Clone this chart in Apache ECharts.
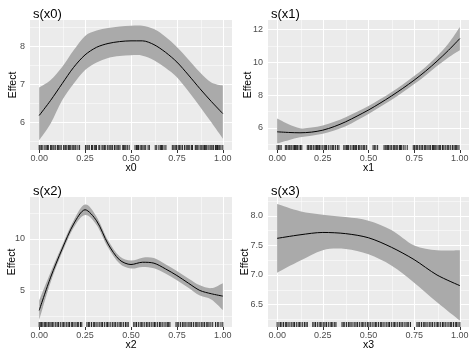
<!DOCTYPE html>
<html><head><meta charset="utf-8">
<script src="https://cdn.jsdelivr.net/npm/echarts@6/dist/echarts.min.js"></script>
<style>html,body{margin:0;padding:0;background:#fff}#c{width:474px;height:355px}</style>
</head><body><div id="c"></div>
<script>
// ---------- data ----------
const titles = ['s(x0)', 's(x1)', 's(x2)', 's(x3)'];
const xNames = ['x0', 'x1', 'x2', 'x3'];
const yName = 'Effect';
const xTicks = [0, 0.25, 0.5, 0.75, 1];
const xMinor = [0.125, 0.375, 0.625, 0.875];

// s(x0)
const xs0  = [0, 0.0625, 0.125, 0.1875, 0.25, 0.3125, 0.375, 0.4375, 0.5, 0.5625, 0.625, 0.6875, 0.75, 0.8125, 0.875, 0.9375, 1];
const fit0 = [6.18, 6.58, 7.02, 7.45, 7.78, 7.98, 8.08, 8.13, 8.15, 8.15, 8.05, 7.85, 7.59, 7.25, 6.89, 6.55, 6.23];
const lo0  = [5.53, 5.97, 6.58, 7.02, 7.38, 7.58, 7.70, 7.75, 7.77, 7.76, 7.64, 7.44, 7.19, 6.82, 6.42, 6.00, 5.57];
const hi0  = [6.92, 7.12, 7.46, 7.90, 8.28, 8.42, 8.49, 8.53, 8.55, 8.55, 8.46, 8.26, 7.99, 7.66, 7.32, 7.05, 6.97];
const yTicks0 = [6, 7, 8];
const yMinor0 = [5.5, 6.5, 7.5, 8.5];
const rug0 = [0.00,0.005,0.012,0.02,0.031,0.038,0.045,0.05,0.062,0.068,0.075,0.081,0.09,0.10,0.106,0.113,0.12,0.133,0.14,0.145,0.151,0.16,0.166,0.172,0.18,0.188,0.195,0.20,0.211,0.22,0.252,0.26,0.266,0.273,0.285,0.29,0.30,0.306,0.312,0.325,0.33,0.342,0.348,0.355,0.36,0.371,0.38,0.386,0.392,0.40,0.41,0.418,0.425,0.433,0.44,0.455,0.46,0.466,0.472,0.48,0.49,0.522,0.53,0.536,0.541,0.55,0.558,0.565,0.572,0.58,0.593,0.60,0.632,0.64,0.652,0.66,0.666,0.671,0.68,0.69,0.725,0.733,0.74,0.746,0.75,0.76,0.765,0.772,0.78,0.791,0.80,0.806,0.812,0.82,0.83,0.835,0.85,0.855,0.861,0.87,0.88,0.886,0.893,0.90,0.905,0.912,0.92,0.93,0.936,0.942,0.95,0.96,0.965,0.971,0.975,0.983,0.99,1.00];

// s(x1)
const xs1  = [0, 0.0625, 0.125, 0.1875, 0.25, 0.3125, 0.375, 0.4375, 0.5, 0.5625, 0.625, 0.6875, 0.75, 0.8125, 0.875, 0.9375, 1];
const fit1 = [5.76, 5.72, 5.70, 5.74, 5.86, 6.08, 6.37, 6.72, 7.09, 7.50, 7.94, 8.41, 8.91, 9.46, 10.07, 10.73, 11.45];
const lo1  = [5.05, 5.25, 5.43, 5.52, 5.64, 5.84, 6.10, 6.47, 6.85, 7.27, 7.70, 8.17, 8.67, 9.20, 9.77, 10.30, 10.74];
const hi1  = [6.57, 6.22, 5.98, 6.02, 6.14, 6.37, 6.65, 6.98, 7.33, 7.74, 8.18, 8.65, 9.16, 9.72, 10.37, 11.15, 12.16];
const yTicks1 = [6, 8, 10, 12];
const yMinor1 = [5, 7, 9, 11];
const rug1 = [0.00,0.008,0.015,0.022,0.045,0.052,0.06,0.066,0.071,0.08,0.088,0.095,0.10,0.105,0.112,0.12,0.128,0.135,0.165,0.172,0.18,0.185,0.19,0.20,0.208,0.215,0.22,0.225,0.232,0.24,0.25,0.258,0.264,0.27,0.28,0.29,0.30,0.305,0.31,0.32,0.33,0.338,0.365,0.372,0.38,0.386,0.39,0.40,0.41,0.418,0.425,0.43,0.435,0.445,0.452,0.46,0.47,0.475,0.48,0.49,0.525,0.532,0.54,0.55,0.585,0.592,0.60,0.605,0.61,0.618,0.625,0.635,0.64,0.645,0.652,0.66,0.67,0.675,0.68,0.69,0.70,0.712,0.745,0.752,0.76,0.765,0.77,0.78,0.788,0.795,0.805,0.81,0.815,0.825,0.832,0.84,0.85,0.855,0.86,0.868,0.875,0.885,0.89,0.895,0.905,0.912,0.92,0.93,0.935,0.94,0.95,0.96,0.968,0.975,0.98,0.985,0.995];

// s(x2)
const xs2  = [0, 0.0625, 0.125, 0.1875, 0.25, 0.3125, 0.375, 0.4375, 0.5, 0.5625, 0.625, 0.6875, 0.75, 0.8125, 0.875, 0.9375, 1];
const fit2 = [3.06, 6.29, 9.03, 11.45, 12.84, 11.77, 9.52, 7.97, 7.52, 7.74, 7.65, 7.10, 6.45, 5.71, 5.00, 4.68, 4.45];
const lo2  = [2.10, 5.79, 8.68, 11.10, 12.34, 11.37, 9.17, 7.62, 7.14, 7.29, 7.15, 6.65, 6.00, 5.26, 4.50, 4.13, 3.10];
const hi2  = [4.03, 6.79, 9.38, 11.80, 13.34, 12.17, 9.87, 8.32, 7.90, 8.19, 8.15, 7.55, 6.90, 6.16, 5.50, 5.23, 5.71];
const yTicks2 = [5, 10];
const yMinor2 = [2.5, 7.5, 12.5];
const rug2 = [0.00,0.006,0.013,0.02,0.028,0.035,0.042,0.05,0.058,0.065,0.072,0.08,0.09,0.098,0.105,0.115,0.125,0.132,0.14,0.15,0.158,0.165,0.175,0.182,0.19,0.20,0.208,0.215,0.225,0.232,0.26,0.268,0.275,0.285,0.295,0.302,0.31,0.32,0.33,0.338,0.345,0.355,0.365,0.372,0.38,0.39,0.40,0.408,0.415,0.425,0.435,0.442,0.45,0.46,0.47,0.478,0.485,0.515,0.522,0.53,0.54,0.55,0.558,0.565,0.575,0.585,0.592,0.60,0.61,0.62,0.628,0.635,0.645,0.655,0.662,0.67,0.68,0.69,0.698,0.705,0.712,0.745,0.752,0.76,0.77,0.78,0.788,0.795,0.805,0.815,0.822,0.83,0.84,0.85,0.858,0.865,0.875,0.885,0.892,0.90,0.91,0.918,0.925,0.935,0.945,0.96,0.97,0.978,0.99,1.00];

// s(x3)
const xs3  = [0, 0.125, 0.25, 0.375, 0.5, 0.625, 0.75, 0.875, 1];
const fit3 = [7.62, 7.68, 7.72, 7.70, 7.63, 7.47, 7.26, 7.00, 6.82];
const lo3  = [7.04, 7.24, 7.42, 7.44, 7.35, 7.16, 6.87, 6.54, 6.23];
const hi3  = [8.20, 8.08, 8.02, 7.98, 7.92, 7.76, 7.50, 7.42, 7.42];
const yTicks3 = [6.5, 7, 7.5, 8];
const yMinor3 = [6.25, 6.75, 7.25, 7.75, 8.25];
const rug3 = [0.00,0.01,0.018,0.026,0.035,0.045,0.052,0.06,0.07,0.08,0.088,0.095,0.105,0.115,0.122,0.13,0.14,0.15,0.158,0.165,0.195,0.202,0.21,0.22,0.23,0.238,0.245,0.255,0.262,0.27,0.28,0.29,0.298,0.305,0.315,0.322,0.355,0.362,0.37,0.38,0.39,0.398,0.405,0.415,0.425,0.432,0.44,0.45,0.46,0.468,0.475,0.485,0.495,0.502,0.51,0.52,0.53,0.538,0.545,0.555,0.565,0.572,0.58,0.59,0.60,0.608,0.615,0.625,0.635,0.642,0.65,0.66,0.67,0.678,0.685,0.695,0.705,0.712,0.72,0.73,0.765,0.772,0.78,0.79,0.80,0.808,0.815,0.825,0.835,0.842,0.85,0.86,0.87,0.878,0.885,0.895,0.905,0.912,0.92,0.93,0.94,0.948,0.955,0.965,0.975,0.982,0.99,1.00];

const panels = [
  {xs: xs0, fit: fit0, lo: lo0, hi: hi0, yTicks: yTicks0, yMinor: yMinor0, rug: rug0, dec: 0},
  {xs: xs1, fit: fit1, lo: lo1, hi: hi1, yTicks: yTicks1, yMinor: yMinor1, rug: rug1, dec: 0},
  {xs: xs2, fit: fit2, lo: lo2, hi: hi2, yTicks: yTicks2, yMinor: yMinor2, rug: rug2, dec: 0},
  {xs: xs3, fit: fit3, lo: lo3, hi: hi3, yTicks: yTicks3, yMinor: yMinor3, rug: rug3, dec: 1}
];

// ---------- layout ----------
const layout = [
  {left: 30, top: 20, width: 202, height: 130, yMin: 5.27, yMax: 8.70, gap: 11.5},
  {left: 268, top: 20, width: 201, height: 130, yMin: 4.65, yMax: 12.58, gap: 14.5},
  {left: 30, top: 197, width: 202, height: 130, yMin: 1.45, yMax: 14.08, gap: 12.5},
  {left: 268, top: 197, width: 201, height: 130, yMin: 6.12, yMax: 8.32, gap: 17.5}
];
const FONT = '"Liberation Sans", Arial, sans-serif';

// Catmull-Rom smoothing of already-projected pixel points (rendering only)
function curveSeg(pts) {
  let d = '';
  for (let k = 0; k < pts.length - 1; k++) {
    const p0 = pts[k - 1] || pts[k], p1 = pts[k], p2 = pts[k + 1], p3 = pts[k + 2] || pts[k + 1];
    const t = 1 / 6;
    const c1x = p1[0] + (p2[0] - p0[0]) * t, c1y = p1[1] + (p2[1] - p0[1]) * t;
    const c2x = p2[0] - (p3[0] - p1[0]) * t, c2y = p2[1] - (p3[1] - p1[1]) * t;
    d += ' C' + c1x + ' ' + c1y + ' ' + c2x + ' ' + c2y + ' ' + p2[0] + ' ' + p2[1];
  }
  return d;
}

const option = {
  animation: false,
  title: [], grid: [], xAxis: [], yAxis: [], series: []
};

panels.forEach((p, i) => {
  const L = layout[i];
  option.title.push({
    text: titles[i], left: L.left - 2, top: L.top - 17,
    textStyle: {fontFamily: FONT, fontSize: 13, fontWeight: 'normal', color: '#000'}
  });
  option.grid.push({
    left: L.left, top: L.top, width: L.width, height: L.height,
    show: true, backgroundColor: '#EBEBEB', borderWidth: 0
  });
  option.xAxis.push({
    type: 'value', gridIndex: i, min: -0.05, max: 1.05,
    name: xNames[i], nameLocation: 'middle', nameGap: 13, nameMoveOverlap: false,
    nameTextStyle: {fontFamily: FONT, fontSize: 10.5, color: '#000'},
    axisLine: {show: false},
    axisTick: {show: true, length: 3, customValues: xTicks, lineStyle: {color: '#333', width: 1}},
    axisLabel: {customValues: xTicks, margin: 4, fontFamily: FONT, fontSize: 9, color: '#4D4D4D',
      formatter: v => v.toFixed(2)},
    splitLine: {show: false}
  });
  option.yAxis.push({
    type: 'value', gridIndex: i, min: L.yMin, max: L.yMax,
    name: yName, nameLocation: 'middle', nameGap: L.gap, nameRotate: 90, nameMoveOverlap: false,
    nameTextStyle: {fontFamily: FONT, fontSize: 10.5, color: '#000'},
    axisLine: {show: false},
    axisTick: {show: true, length: 3, customValues: p.yTicks, lineStyle: {color: '#333', width: 1}},
    axisLabel: {customValues: p.yTicks, margin: 5, fontFamily: FONT, fontSize: 9, color: '#4D4D4D',
      formatter: v => v.toFixed(p.dec)},
    splitLine: {show: false}
  });
  const gridLines = [];
  xMinor.forEach(v => gridLines.push({xAxis: v, lineStyle: {width: 0.5}}));
  p.yMinor.forEach(v => gridLines.push({yAxis: v, lineStyle: {width: 0.5}}));
  xTicks.forEach(v => gridLines.push({xAxis: v, lineStyle: {width: 1.1}}));
  p.yTicks.forEach(v => gridLines.push({yAxis: v, lineStyle: {width: 1.1}}));

  // confidence band (custom polygon through the axes' scales)
  option.series.push({
    type: 'custom', xAxisIndex: i, yAxisIndex: i, z: 2, silent: true,
    data: p.xs.map((x, k) => [x, p.lo[k], p.hi[k]]),
    encode: {x: 0, y: [1, 2]},
    renderItem: (params, api) => {
      if (params.dataIndex !== 0) return null;
      const up = p.xs.map((x, k) => api.coord([x, p.hi[k]]));
      const dn = p.xs.map((x, k) => api.coord([x, p.lo[k]])).reverse();
      const d = 'M' + up[0][0] + ' ' + up[0][1] + curveSeg(up) +
        ' L' + dn[0][0] + ' ' + dn[0][1] + curveSeg(dn) + ' Z';
      return {type: 'path', shape: {pathData: d}, style: {fill: '#AAAAAA', stroke: null}};
    },
    markLine: {silent: true, z: 1, symbol: ['none', 'none'], label: {show: false},
      lineStyle: {color: '#FFFFFF', type: 'solid'}, data: gridLines, animation: false}
  });
  option.series.push({
    type: 'line', xAxisIndex: i, yAxisIndex: i, z: 3,
    data: p.xs.map((x, k) => [x, p.fit[k]]),
    smooth: 0.3, symbol: 'none', lineStyle: {color: '#000', width: 1}, silent: true
  });
  option.series.push({
    type: 'custom', xAxisIndex: i, yAxisIndex: i, z: 4, silent: true,
    data: p.rug.map(v => [v, L.yMin]),
    encode: {x: 0, y: 1},
    renderItem: (params, api) => {
      const pt = api.coord([api.value(0), api.value(1)]);
      return {type: 'line', shape: {x1: pt[0], y1: pt[1], x2: pt[0], y2: pt[1] - 5},
        style: {stroke: 'rgba(0,0,0,0.85)', lineWidth: 1}};
    }
  });
});

const chart = echarts.init(document.getElementById('c'), null, {renderer: 'canvas'});
chart.setOption(option);
</script></body></html>
